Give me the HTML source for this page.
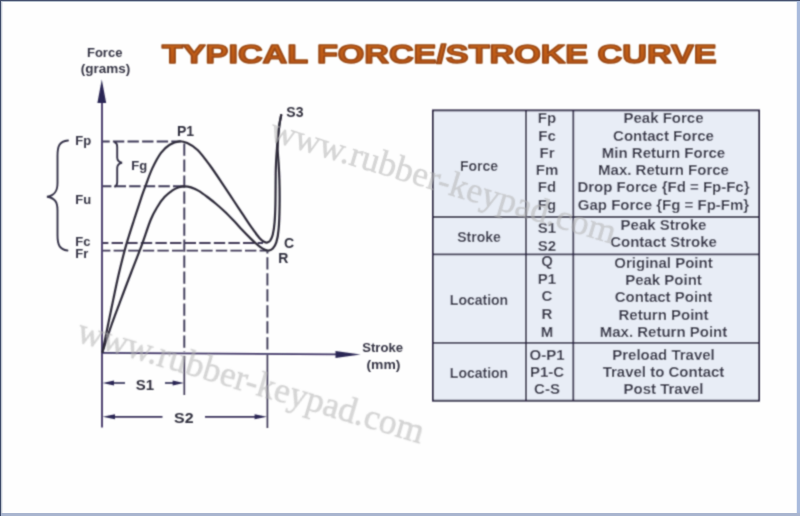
<!DOCTYPE html>
<html><head><meta charset="utf-8"><title>Typical Force/Stroke Curve</title>
<style>
html,body{margin:0;padding:0;background:#fff;}
body{width:800px;height:516px;overflow:hidden;position:relative;font-family:"Liberation Sans",sans-serif;}
svg{position:absolute;left:0;top:0;display:block;}
text{font-family:"Liberation Sans",sans-serif;}
.lbl{font-size:13px;font-weight:bold;fill:#353444;}
.pt{font-size:14px;font-weight:bold;fill:#32313f;}
.tb{font-size:14px;font-weight:bold;fill:#353447;}
.tc{font-size:15px;font-weight:bold;fill:#353447;}
.wm{font-family:"Liberation Serif",serif;font-size:35.5px;fill:#b4b4b4;fill-opacity:.55;stroke:#b4b4b4;stroke-opacity:.55;stroke-width:.35px;}
</style></head><body>
<svg width="800" height="516" viewBox="0 0 800 516">
<defs>
<filter id="soft" x="-5%" y="-5%" width="110%" height="110%"><feConvolveMatrix order="3" kernelMatrix="1 3 1 3 10 3 1 3 1" divisor="26" edgeMode="none" preserveAlpha="false"/></filter>
<linearGradient id="tg" x1="0" y1="0" x2="0" y2="1"><stop offset="0" stop-color="#c8651a"/><stop offset="1" stop-color="#b45210"/></linearGradient>
</defs>
<rect x="0" y="0" width="800" height="516" fill="#fefefe"/>
<!-- frame -->
<rect x="0" y="0" width="800" height="1" fill="#44506e"/>
<rect x="0" y="1" width="800" height="1" fill="#b4bfcc"/>
<rect x="0" y="0" width="1.3" height="516" fill="#3f4c6a"/>
<rect x="1.3" y="1" width="1" height="515" fill="#c3cad6"/>
<rect x="796.8" y="1" width="3.2" height="515" fill="#a9bbdd"/>
<rect x="1" y="513" width="799" height="3" fill="#a9b5cf"/>

<g filter="url(#soft)">
<!-- title -->
<text x="162" y="63.2" font-size="25.6" font-weight="bold" textLength="554.5" lengthAdjust="spacingAndGlyphs" fill="url(#tg)" stroke="#9c4a14" stroke-width="1.5" stroke-linejoin="round">TYPICAL FORCE/STROKE CURVE</text>

<!-- axes -->
<g stroke="#3f3666" stroke-width="1.85" fill="none">
<line x1="102" y1="100" x2="102" y2="427.5"/>
<line x1="102" y1="352.8" x2="340" y2="354.4"/>
</g>
<polygon points="101.8,79.5 97.4,103 106.2,103" fill="#2a2654"/>
<polygon points="360.5,354.5 335.5,351 335.5,358" fill="#2a2654"/>

<!-- dashed -->
<g stroke="#3f3a58" stroke-width="1.9" fill="none" stroke-dasharray="11.4 3.2">
<line x1="103" y1="141.5" x2="181" y2="141.5" stroke-dashoffset="4.7"/>
<line x1="103" y1="186.2" x2="184" y2="186.2" stroke-dashoffset="3"/>
<line x1="103" y1="243" x2="263" y2="243" stroke-dashoffset="6"/>
<line x1="103" y1="250.6" x2="267" y2="250.6" stroke-dashoffset="4"/>
<line x1="184.3" y1="141.5" x2="184.3" y2="352" stroke-dasharray="12.4 3.6" stroke-dashoffset="14.1"/>
<line x1="184.3" y1="356" x2="184.3" y2="395" stroke-dasharray="none" stroke-width="1.7"/>
<line x1="267.4" y1="251.6" x2="267.4" y2="352" stroke-dasharray="12.4 3.6" stroke-dashoffset="10.4"/>
<line x1="267.4" y1="355" x2="267.4" y2="428" stroke-dasharray="none" stroke-width="1.7"/>
</g>

<!-- curves -->
<g stroke="#2e2c3a" stroke-width="2.2" fill="none" stroke-linecap="round">
<path d="M102.5 352.0 C103.4 347.5 106.2 333.8 108.0 325.0 C109.8 316.2 111.5 308.1 113.3 299.4 C115.1 290.7 116.9 281.8 119.0 273.0 C121.1 264.2 123.2 255.4 125.7 246.6 C128.2 237.8 131.3 228.4 134.0 220.0 C136.7 211.6 139.9 201.9 141.8 196.2 C143.7 190.5 143.8 190.4 145.6 185.8 C147.3 181.2 149.7 173.9 152.3 168.4 C154.9 162.9 158.1 156.8 161.0 152.9 C163.9 149.0 166.6 146.7 169.7 144.8 C172.8 142.9 176.4 141.6 179.3 141.3 C182.2 141.0 184.1 141.7 187.2 143.1 C190.2 144.5 193.8 146.3 197.6 150.0 C201.4 153.7 205.4 159.3 210.0 165.5 C214.6 171.7 221.0 181.6 224.9 187.4 C228.8 193.2 230.7 196.1 233.6 200.5 C236.5 204.9 239.4 209.2 242.3 213.6 C245.2 218.0 248.1 222.6 251.0 226.7 C253.9 230.8 257.5 235.8 259.7 238.3 C261.9 240.8 262.9 241.1 264.1 241.8 C265.3 242.5 265.9 242.8 266.9 242.6 C267.9 242.4 269.2 241.9 270.2 240.6 C271.2 239.2 272.1 237.6 272.8 234.5 C273.5 231.4 274.2 227.2 274.6 222.3 C275.0 217.4 275.2 213.6 275.4 204.9 C275.6 196.2 275.6 177.8 275.8 170.0 C276.0 162.2 276.1 161.7 276.3 158.0 C276.5 154.3 276.7 151.7 277.0 148.0 C277.3 144.3 277.6 139.8 278.0 136.0 C278.4 132.2 278.8 128.5 279.3 125.0 C279.8 121.5 280.9 116.7 281.2 115.0"/>
<path d="M102.5 352.0 C104.0 347.5 108.4 333.8 111.5 325.0 C114.6 316.2 117.8 308.1 121.0 299.4 C124.2 290.7 127.6 281.8 131.0 273.0 C134.4 264.2 137.9 255.4 141.2 246.6 C144.5 237.8 147.9 226.7 150.6 220.0 C153.3 213.3 155.2 210.5 157.5 206.7 C159.8 202.9 162.0 199.8 164.5 197.1 C167.0 194.4 170.1 192.0 172.5 190.3 C174.9 188.7 176.9 187.9 179.0 187.2 C181.1 186.5 183.0 186.3 185.0 186.3 C187.0 186.3 188.7 186.6 191.0 187.4 C193.3 188.2 196.0 189.3 198.7 190.9 C201.4 192.5 204.5 194.8 207.4 197.0 C210.3 199.2 213.3 201.5 216.2 204.0 C219.1 206.5 222.0 209.0 224.9 211.8 C227.8 214.6 230.7 217.6 233.6 220.6 C236.5 223.6 239.4 227.0 242.3 230.1 C245.2 233.2 248.1 236.1 251.0 238.9 C253.9 241.7 257.4 244.9 259.7 246.7 C262.0 248.5 263.5 249.2 265.0 249.8 C266.5 250.5 267.3 250.8 268.6 250.6 C269.9 250.4 271.5 249.9 272.8 248.5 C274.1 247.1 275.3 245.6 276.3 242.4 C277.3 239.2 278.1 235.6 278.6 229.3 C279.2 223.1 279.5 213.1 279.6 204.9 C279.7 196.7 279.6 187.0 279.4 180.0 C279.2 173.0 278.9 168.0 278.6 163.0 C278.3 158.0 277.8 154.5 277.7 150.0 C277.6 145.5 277.9 140.2 278.2 136.0 C278.5 131.8 278.9 128.5 279.4 125.0 C279.9 121.5 280.9 116.7 281.2 115.0"/>
</g>

<!-- braces -->
<g stroke="#353348" stroke-width="1.9" fill="none" stroke-linecap="round">
<path d="M68 140.5 C59 141 57.5 147 57.5 156 L57.5 183 C57.5 191 55 195.5 47 196.8 C55 198.1 57.5 202 57.5 210 L57.5 235 C57.5 244 59 249.5 67.5 250.5"/>
<path d="M115 142.5 C117 143 117.2 144.5 117.2 147 L117.2 157.5 C117.2 160.5 118.5 162 122 162.8 C118.5 163.6 117.2 165 117.2 168 L117.2 182 C117.2 184.5 117 186 115 186.5"/>
</g>

<!-- dimension lines -->
<g stroke="#38325a" stroke-width="1.7" fill="none">
<line x1="110" y1="383" x2="125" y2="383"/>
<line x1="165" y1="383" x2="177" y2="383"/>
<line x1="110" y1="416.8" x2="162.5" y2="416.8"/>
<line x1="205" y1="416.8" x2="260" y2="416.8"/>
</g>
<g fill="#2a2654">
<polygon points="102.6,383 114,380.6 114,385.4"/>
<polygon points="184,383 172.6,380.6 172.6,385.4"/>
<polygon points="102.6,416.8 115,414.3 115,419.3"/>
<polygon points="267,416.8 254.6,414.3 254.6,419.3"/>
</g>

<!-- labels -->
<g class="lbl">
<text x="104.7" y="56.6" text-anchor="middle">Force</text>
<text x="105.4" y="73.4" text-anchor="middle" textLength="49.5" lengthAdjust="spacingAndGlyphs">(grams)</text>
<text x="75.3" y="144.8">Fp</text>
<text x="75.3" y="204">Fu</text>
<text x="75.3" y="245.6">Fc</text>
<text x="75.3" y="258.1">Fr</text>
<text x="131.2" y="169.5">Fg</text>
<text x="362.3" y="351.8" textLength="40.7" lengthAdjust="spacingAndGlyphs">Stroke</text>
<text x="366.4" y="369.4" textLength="34" lengthAdjust="spacingAndGlyphs">(mm)</text>
</g>
<g class="pt">
<text x="177" y="136.4">P1</text>
<text x="286.3" y="117">S3</text>
<text x="284" y="248">C</text>
<text x="278.3" y="262.6">R</text>
<text x="135.8" y="389.5" style="font-size:15px">S1</text>
<text x="174" y="423.2" style="font-size:15px" textLength="19.5" lengthAdjust="spacingAndGlyphs">S2</text>
</g>

<!-- table -->
<rect x="433" y="110.4" width="326" height="290.3" fill="#e8edf6" stroke="#2f2948" stroke-width="1.9"/>
<g stroke="#2f2948" stroke-width="1.8">
<line x1="526" y1="110.5" x2="526" y2="401"/>
<line x1="573.3" y1="110.5" x2="573.3" y2="401"/>
<line x1="433" y1="217" x2="759" y2="217"/>
<line x1="433" y1="254.3" x2="759" y2="254.3"/>
<line x1="433" y1="342.8" x2="759" y2="342.8"/>
</g>
<g class="tb" text-anchor="middle">
<text x="479" y="171">Force</text>
<text x="479" y="242">Stroke</text>
<text x="479" y="305">Location</text>
<text x="479" y="378">Location</text>
</g>
<g class="tc" text-anchor="middle" transform="translate(547 0)">
<text x="0" y="123.2">Fp</text>
<text x="0" y="140.5">Fc</text>
<text x="0" y="157.9">Fr</text>
<text x="0" y="175.1">Fm</text>
<text x="0" y="192.0">Fd</text>
<text x="0" y="209.8">Fg</text>
<text x="0" y="233.1">S1</text>
<text x="0" y="250.8">S2</text>
<text x="0" y="266">Q</text>
<text x="0" y="283.7">P1</text>
<text x="0" y="301.3">C</text>
<text x="0" y="318.9">R</text>
<text x="0" y="337.2">M</text>
<text x="0" y="359.9">O-P1</text>
<text x="0" y="377.2">P1-C</text>
<text x="0" y="394.2">C-S</text>
</g>
<g class="tc" text-anchor="middle" transform="translate(663.5 0)">
<text x="0" y="123.2">Peak Force</text>
<text x="0" y="140.6">Contact Force</text>
<text x="0" y="157.8">Min Return Force</text>
<text x="0" y="175.1">Max. Return Force</text>
<text x="0" y="192.0">Drop Force {Fd = Fp-Fc}</text>
<text x="0" y="209.8">Gap Force {Fg = Fp-Fm}</text>
<text x="0" y="229.8">Peak Stroke</text>
<text x="0" y="247.2">Contact Stroke</text>
<text x="0" y="268.3">Original Point</text>
<text x="0" y="285.3">Peak Point</text>
<text x="0" y="302.4">Contact Point</text>
<text x="0" y="319.6">Return Point</text>
<text x="0" y="336.7">Max. Return Point</text>
<text x="0" y="359.6">Preload Travel</text>
<text x="0" y="376.8">Travel to Contact</text>
<text x="0" y="394.1">Post Travel</text>
</g>
</g>

<!-- watermarks -->
<g filter="url(#soft)">
<text class="wm" transform="translate(267.9,140.1) rotate(16.8)">www.rubber-keypad.com</text>
<text class="wm" transform="translate(75.2,341.4) rotate(16.5)">www.rubber-keypad.com</text>
</g>
</svg>
</body></html>
